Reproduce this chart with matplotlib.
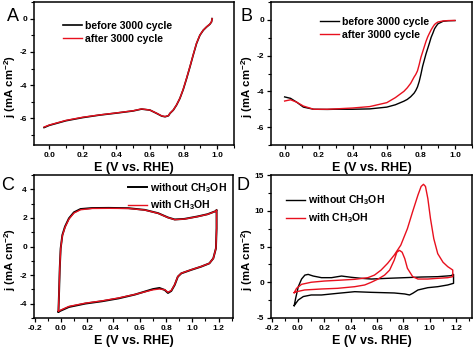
import matplotlib
matplotlib.use("Agg")
import matplotlib.pyplot as plt
from matplotlib.ticker import MultipleLocator

plt.rcParams['font.family'] = ['Liberation Sans', 'DejaVu Sans']
plt.rcParams['mathtext.fontset'] = 'custom'
plt.rcParams['mathtext.rm'] = 'Liberation Sans:bold'
plt.rcParams['mathtext.bf'] = 'Liberation Sans:bold'
plt.rcParams['mathtext.it'] = 'Liberation Sans:bold'

RED = '#e8101e'
BLK = '#000000'

# ---- Panel A: LSV before/after 3000 cycles ----
a_E = [-0.03, 0.0, 0.1, 0.2, 0.3, 0.4, 0.5, 0.55, 0.6, 0.64, 0.67, 0.69, 0.71, 0.719, 0.739,
       0.758, 0.778, 0.798, 0.818, 0.838, 0.857, 0.877, 0.897, 0.917, 0.937, 0.956, 0.966, 0.97]
a_before = [-6.55, -6.42, -6.14, -5.95, -5.8, -5.68, -5.55, -5.44, -5.5, -5.7, -5.86, -5.9, -5.84,
            -5.7, -5.5, -5.2, -4.8, -4.26, -3.6, -2.9, -2.2, -1.5, -1.0, -0.7, -0.5, -0.34,
            -0.2, 0.0]
a_after = [-6.52, -6.4, -6.12, -5.93, -5.79, -5.67, -5.54, -5.43, -5.5, -5.69, -5.85, -5.89,
           -5.83, -5.69, -5.49, -5.19, -4.79, -4.24, -3.58, -2.88, -2.18, -1.48, -0.99, -0.69,
           -0.49, -0.33, -0.19, 0.0]

# ---- Panel B ----
b_E = [0.0, 0.035, 0.07, 0.11, 0.17, 0.25, 0.3, 0.4, 0.5, 0.6, 0.65, 0.7, 0.72, 0.74, 0.76,
       0.77, 0.78, 0.79, 0.8, 0.81, 0.82, 0.83, 0.84, 0.85, 0.86, 0.87, 0.88, 0.89, 0.9, 0.93,
       0.96, 1.0]
b_before = [-4.31, -4.39, -4.6, -4.88, -5.0, -5.01, -5.0, -5.0, -4.98, -4.88, -4.75, -4.55,
            -4.45, -4.3, -4.1, -3.95, -3.75, -3.45, -3.05, -2.6, -2.25, -1.9, -1.6, -1.3,
            -0.98, -0.75, -0.5, -0.35, -0.22, -0.08, -0.05, -0.04]
b_after = [-4.54, -4.47, -4.6, -4.82, -5.0, -5.0, -4.98, -4.93, -4.85, -4.63, -4.35, -4.0,
           -3.8, -3.55, -3.2, -3.05, -2.85, -2.5, -2.1, -1.8, -1.5, -1.2, -0.95, -0.75, -0.56,
           -0.4, -0.26, -0.18, -0.12, -0.06, -0.04, -0.03]

# ---- Panel C: CV with/without CH3OH (closed loop) ----
c_E = [-0.019, -0.014, -0.009, -0.002, 0.011, 0.031, 0.061, 0.099, 0.149, 0.237, 0.363, 0.514,
       0.639, 0.74, 0.815, 0.866, 0.94, 1.04, 1.117, 1.18, 1.185, 1.185, 1.18, 1.16, 1.13,
       1.067, 0.99, 0.916, 0.89, 0.866, 0.84, 0.815, 0.79, 0.75, 0.70, 0.639, 0.564, 0.438,
       0.313, 0.187, 0.061, -0.019]
c_without = [-4.56, -3.16, -1.53, -0.13, 0.8, 1.39, 1.97, 2.39, 2.62, 2.69, 2.7, 2.68, 2.56,
             2.33, 2.03, 1.89, 1.93, 2.1, 2.26, 2.48, 2.56, 1.27, -0.13, -0.83, -1.18, -1.41,
             -1.64, -1.88, -2.11, -2.69, -3.11, -3.25, -3.04, -2.9, -2.98, -3.15, -3.36,
             -3.63, -3.83, -3.99, -4.23, -4.56]
c_with = [-4.52, -3.14, -1.53, -0.15, 0.76, 1.34, 1.92, 2.34, 2.57, 2.66, 2.67, 2.66, 2.55,
          2.32, 2.02, 1.88, 1.92, 2.09, 2.25, 2.47, 2.55, 1.27, -0.13, -0.83, -1.18, -1.4,
          -1.63, -1.87, -2.1, -2.66, -3.08, -3.2, -3.02, -2.97, -3.03, -3.17, -3.35, -3.6,
          -3.8, -3.96, -4.19, -4.52]

# ---- Panel D ----
d_E_without = [-0.029, -0.018, 0.002, 0.027, 0.052, 0.077, 0.115, 0.178, 0.254, 0.33, 0.405,
               0.48, 0.556, 0.68, 0.81, 0.934, 1.06, 1.16, 1.18, 1.18, 1.136, 1.06, 0.985, 0.91,
               0.87, 0.846, 0.81, 0.73, 0.556, 0.43, 0.30, 0.178, 0.10, 0.04, 0.002, -0.029]
d_without = [-3.27, -2.25, -0.62, 0.45, 1.0, 1.1, 0.87, 0.64, 0.64, 0.87, 0.69, 0.55, 0.45,
             0.55, 0.64, 0.73, 0.78, 0.92, 1.1, -0.15, -0.38, -0.62, -0.76, -1.08, -1.55, -1.78,
             -1.64, -1.5, -1.41, -1.32, -1.55, -1.78, -1.78, -2.0, -2.48, -3.27]
d_E_with = [-0.029, -0.011, 0.027, 0.10, 0.20, 0.30, 0.43, 0.53, 0.58, 0.63, 0.68, 0.73, 0.78,
            0.83, 0.87, 0.91, 0.934, 0.952, 0.967, 0.985, 1.005, 1.03, 1.06, 1.10, 1.136, 1.174,
            1.174, 1.136, 1.06, 0.985, 0.91, 0.87, 0.83, 0.81, 0.79, 0.77, 0.75, 0.73, 0.695,
            0.657, 0.607, 0.556, 0.506, 0.43, 0.30, 0.18, 0.05, -0.011, -0.029]
d_with = [-1.46, -0.85, -0.29, 0.0, 0.17, 0.27, 0.41, 0.64, 1.0, 1.7, 2.65, 3.8, 5.2, 7.5, 9.9,
          12.2, 13.4, 13.7, 13.4, 11.7, 8.9, 6.1, 4.0, 2.8, 2.18, 1.71, 0.78, 0.64, 0.55, 0.45,
          0.45, 0.78, 1.95, 3.3, 4.2, 4.46, 4.2, 3.1, 1.7, 1.0, 0.45, 0.0, -0.38, -0.62, -0.85,
          -0.94, -1.08, -1.32, -1.46]

xlabel = 'E (V vs. RHE)'
ylabel = r'j (mA cm$^{\mathbf{-2}}$)'

fig = plt.figure(figsize=(4.74, 3.48), dpi=100)
W, H = 474.0, 348.0

def mkax(l, t, r, b):
    return fig.add_axes([l / W, 1 - b / H, (r - l) / W, (b - t) / H])

axA = mkax(34, 2, 234, 145)
axB = mkax(271, 2, 472, 145)
axC = mkax(34, 175, 233, 318)
axD = mkax(271, 175, 472, 318)

def style(ax, xlim, ylim, xmaj, xmin, ymaj, ymin):
    ax.set_xlim(*xlim)
    ax.set_ylim(*ylim)
    ax.xaxis.set_major_locator(MultipleLocator(xmaj))
    ax.xaxis.set_minor_locator(MultipleLocator(xmin))
    ax.yaxis.set_major_locator(MultipleLocator(ymaj))
    ax.yaxis.set_minor_locator(MultipleLocator(ymin))
    ax.xaxis.set_major_formatter(plt.FuncFormatter(lambda v, p: f'{v:.1f}'))
    ax.yaxis.set_major_formatter(plt.FuncFormatter(lambda v, p: f'{v:.0f}'))
    for s in ax.spines.values():
        s.set_linewidth(1.1)
    ax.tick_params(which='major', direction='out', length=3, width=0.9, labelsize=6, pad=2,
                   top=False, right=False)
    ax.tick_params(which='minor', direction='out', length=2, width=0.8, top=False, right=False)
    ax.set_xlabel(xlabel, fontsize=9, fontweight='bold', labelpad=2)
    ax.set_ylabel(ylabel, fontsize=8.2, fontweight='bold')
    ax.yaxis.set_label_coords(-0.078, 0.41)

# Panel A
axA.plot(a_E, a_before, color=BLK, lw=1.2, label='before 3000 cycle')
axA.plot(a_E, a_after, color=RED, lw=1.0, label='after 3000 cycle')
style(axA, (-0.09, 1.1), (-7.6, 1.0), 0.2, 0.1, 2, 1)

# Panel B
axB.plot(b_E, b_before, color=BLK, lw=1.0, label='before 3000 cycle')
axB.plot(b_E, b_after, color=RED, lw=1.0, label='after 3000 cycle')
style(axB, (-0.08, 1.1), (-7.0, 1.0), 0.2, 0.1, 2, 1)

# Panel C
axC.plot(c_E, c_without, color=BLK, lw=1.4, label=r'without CH$_{\mathbf{3}}$OH')
axC.plot(c_E, c_with, color=RED, lw=1.0, label=r'with CH$_{\mathbf{3}}$OH')
style(axC, (-0.205, 1.31), (-5, 5), 0.2, 0.1, 2, 1)

# Panel D
axD.plot(d_E_without, d_without, color=BLK, lw=1.0, label=r'without CH$_{\mathbf{3}}$OH')
axD.plot(d_E_with, d_with, color=RED, lw=1.0, label=r'with CH$_{\mathbf{3}}$OH')
style(axD, (-0.205, 1.32), (-5, 15), 0.2, 0.1, 5, 2.5)

for ax in (axA, axB, axC, axD):
    for lab in ax.get_xticklabels() + ax.get_yticklabels():
        lab.set_fontweight('bold')

def leg(ax, x, y, spacing):
    ax.legend(loc='upper left', bbox_to_anchor=(x, y), frameon=False, borderpad=0,
              borderaxespad=0, handlelength=1.8, handletextpad=0.3, labelspacing=spacing,
              prop={'weight': 'bold', 'size': 7.6})

leg(axA, 0.145, 0.87, 0.3)
leg(axB, 0.244, 0.895, 0.3)
leg(axC, 0.472, 0.96, 0.35)
leg(axD, 0.075, 0.87, 0.4)

for txt, x, y in (('A', 7, 21), ('B', 241, 21), ('C', 1, 190), ('D', 236, 190)):
    fig.text(x / W, 1 - y / H, txt, fontsize=13, ha='left', va='baseline')

fig.savefig('out.png', dpi=100)
